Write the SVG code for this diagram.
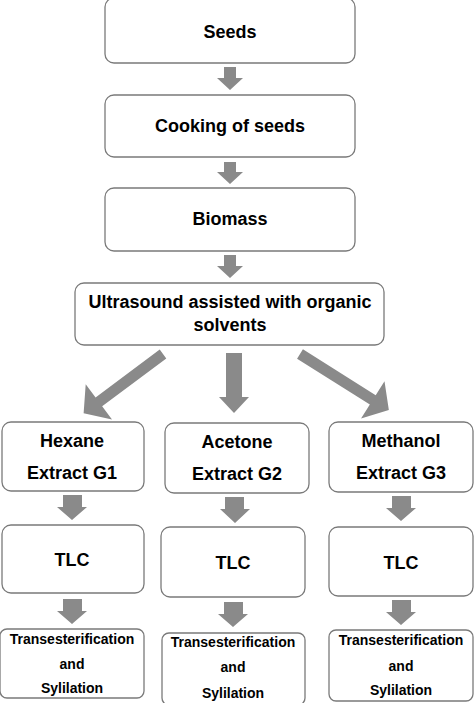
<svg xmlns="http://www.w3.org/2000/svg" width="474" height="703" viewBox="0 0 474 703">
<style>
.box{fill:#fff;stroke:#7a7a7a;stroke-width:1.3}
.t{font-family:"Liberation Sans",Arial,sans-serif;font-weight:bold;font-size:18px;fill:#000;text-anchor:middle}
.s{font-size:14px}
.ar{fill:#8a8a8a}
</style>
<rect width="474" height="703" fill="#fff"/>
<g id="seeds"><rect class="box" x="105" y="-2" width="250" height="65" rx="9"/><text class="t" x="230" y="38">Seeds</text></g>
<g id="cooking"><rect class="box" x="105" y="95" width="250" height="62" rx="9"/><text class="t" x="230" y="132">Cooking of seeds</text></g>
<g id="biomass"><rect class="box" x="105" y="188" width="250" height="63" rx="9"/><text class="t" x="230" y="225">Biomass</text></g>
<g id="ultrasound"><rect class="box" x="75" y="283" width="309" height="62" rx="9"/><text class="t" x="230" y="308">Ultrasound assisted with organic</text><text class="t" x="230" y="331">solvents</text></g>
<g id="hexane"><rect class="box" x="2" y="422" width="142" height="69" rx="9"/><text class="t" x="72" y="447">Hexane</text><text class="t" x="72" y="479">Extract G1</text></g>
<g id="acetone"><rect class="box" x="165" y="423" width="144" height="70" rx="9"/><text class="t" x="237" y="448">Acetone</text><text class="t" x="237" y="480">Extract G2</text></g>
<g id="methanol"><rect class="box" x="329" y="422" width="144" height="70" rx="9"/><text class="t" x="401" y="447">Methanol</text><text class="t" x="401" y="479">Extract G3</text></g>
<g id="tlc1"><rect class="box" x="2" y="525" width="142" height="68" rx="9"/><text class="t" x="72" y="566">TLC</text></g>
<g id="tlc2"><rect class="box" x="161" y="527" width="144" height="70" rx="9"/><text class="t" x="233" y="569">TLC</text></g>
<g id="tlc3"><rect class="box" x="329" y="527" width="144" height="69" rx="9"/><text class="t" x="401" y="569">TLC</text></g>
<g id="trans1"><rect class="box" x="0" y="629" width="144" height="69" rx="7"/><text class="t s" x="72" y="644">Transesterification</text><text class="t s" x="72" y="669">and</text><text class="t s" x="72" y="693">Sylilation</text></g>
<g id="trans2"><rect class="box" x="162" y="633" width="143" height="72" rx="7"/><text class="t s" x="233" y="647">Transesterification</text><text class="t s" x="233" y="672">and</text><text class="t s" x="233" y="698">Sylilation</text></g>
<g id="trans3"><rect class="box" x="329" y="630" width="144" height="71" rx="7"/><text class="t s" x="401" y="645">Transesterification</text><text class="t s" x="401" y="671">and</text><text class="t s" x="401" y="695">Sylilation</text></g>
<g id="connectors">
<polygon class="ar" points="224,67 236,67 236,78 243,78 230,90 217,78 224,78"/>
<polygon class="ar" points="224,162 236,162 236,172 243,172 230,184 217,172 224,172"/>
<polygon class="ar" points="224,255 236,255 236,266 243,266 230,278 217,266 224,266"/>
<polygon class="ar" points="226,353 242,353 242,397 249,397 234,413 219,397 226,397"/>
<polygon class="ar" points="0,-5.5 80,-5.5 80,-22 99,0 80,22 80,5.5 0,5.5" transform="translate(163,354) rotate(143.3)"/>
<polygon class="ar" points="0,-5.5 86,-5.5 86,-22 105,0 86,22 86,5.5 0,5.5" transform="translate(300,354) rotate(32.2)"/>
<polygon class="ar" points="63,495 82,495 82,507 87,507 72,520 57,507 63,507"/>
<polygon class="ar" points="225,497 244,497 244,509 250,509 235,523 220,509 225,509"/>
<polygon class="ar" points="392,496 411,496 411,508 416,508 401,521 386,508 392,508"/>
<polygon class="ar" points="63,599 82,599 82,611 87,611 72,624 57,611 63,611"/>
<polygon class="ar" points="224,602 243,602 243,614 248,614 233,627 218,614 224,614"/>
<polygon class="ar" points="392,600 411,600 411,612 416,612 401,625 386,612 392,612"/>
</g>
</svg>
